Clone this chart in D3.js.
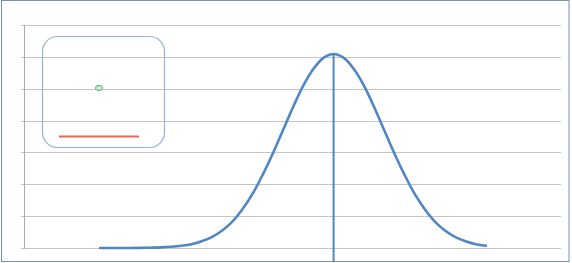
<!DOCTYPE html>
<html>
<head>
<meta charset="utf-8">
<script src="https://cdn.jsdelivr.net/npm/d3@7"></script>
<style>
  body { margin: 0; background: #fff; }
  svg { display: block; }
  .grid line { stroke: #c4c4c4; shape-rendering: crispEdges; }
</style>
</head>
<body>
<svg id="chart" width="572" height="263"></svg>
<script>
// bell curve (x in sd units, y in axis units)
const xs = [-4.6, -4.4, -4.2, -4.0, -3.8, -3.6, -3.4, -3.2, -3.0, -2.8, -2.6, -2.4, -2.2, -2.0,
            -1.8, -1.6, -1.4, -1.2, -1.0, -0.8, -0.6, -0.4, -0.2, 0,
            0.2, 0.4, 0.6, 0.8, 1.0, 1.2, 1.4, 1.6, 1.8, 2.0, 2.2, 2.4, 2.6, 2.8, 3.0];
const ys = [0, 0, 0.0001, 0.0002, 0.0004, 0.001, 0.002, 0.004, 0.007, 0.012, 0.021, 0.034, 0.054, 0.082,
            0.121, 0.169, 0.229, 0.296, 0.369, 0.442, 0.509, 0.562, 0.597, 0.609,
            0.597, 0.562, 0.509, 0.442, 0.369, 0.296, 0.229, 0.169, 0.121, 0.082, 0.054, 0.034, 0.021, 0.012, 0.007];
const yTicks = [0, 0.1, 0.2, 0.3, 0.4, 0.5, 0.6, 0.7];
const meanX = 0;
const peakY = 0.609;

const svg = d3.select('#chart');
const plotL = 24, plotR = 561, plotT = 25, plotB = 248;

const x = d3.scaleLinear().domain([-6.1, 4.48]).range([plotL, plotR]);
const y = d3.scaleLinear().domain([0, 0.7]).range([plotB, plotT]);

// outer frame
svg.append('rect')
    .attr('x', 1.5).attr('y', 0.5)
    .attr('width', 567.5).attr('height', 261)
    .attr('fill', 'none')
    .attr('stroke', '#7592b8')
    .attr('stroke-width', 1);

// gridlines + ticks
const g = svg.append('g').attr('class', 'grid');
g.selectAll('line.h')
    .data(yTicks)
    .enter().append('line')
        .attr('class', 'h')
        .attr('x1', plotL - 3)
        .attr('x2', plotR)
        .attr('y1', d => Math.round(y(d)) + 0.5)
        .attr('y2', d => Math.round(y(d)) + 0.5);

svg.append('line')
    .attr('x1', plotL + 0.5).attr('x2', plotL + 0.5)
    .attr('y1', plotT).attr('y2', plotB + 1)
    .attr('stroke', '#aaaaaa')
    .attr('shape-rendering', 'crispEdges');

// legend box
svg.append('rect')
    .attr('x', 42.5).attr('y', 36.5)
    .attr('width', 122).attr('height', 111)
    .attr('rx', 15).attr('ry', 15)
    .attr('fill', 'none')
    .attr('stroke', '#8fb1dc')
    .attr('stroke-width', 1.2);

svg.append('ellipse')
    .attr('cx', 99).attr('cy', 88)
    .attr('rx', 3.5).attr('ry', 2.6)
    .attr('fill', '#c8f0d0')
    .attr('stroke', '#5aa878')
    .attr('stroke-width', 1);

svg.append('line')
    .attr('x1', 59).attr('x2', 139)
    .attr('y1', 136.5).attr('y2', 136.5)
    .attr('stroke', '#ee6650')
    .attr('stroke-width', 2);

// curve
const pts = xs.map((d, i) => [d, ys[i]]);
const line = d3.line()
    .x(d => x(d[0]))
    .y(d => y(d[1]))
    .curve(d3.curveCatmullRom);

svg.append('path')
    .datum(pts)
    .attr('d', line)
    .attr('fill', 'none')
    .attr('stroke', '#4f86c4')
    .attr('stroke-width', 2.6)
    .attr('stroke-linecap', 'round');

// mean line
svg.append('line')
    .attr('x1', x(meanX)).attr('x2', x(meanX))
    .attr('y1', y(peakY)).attr('y2', 262)
    .attr('stroke', '#4f86c4')
    .attr('stroke-width', 2);
</script>
</body>
</html>
